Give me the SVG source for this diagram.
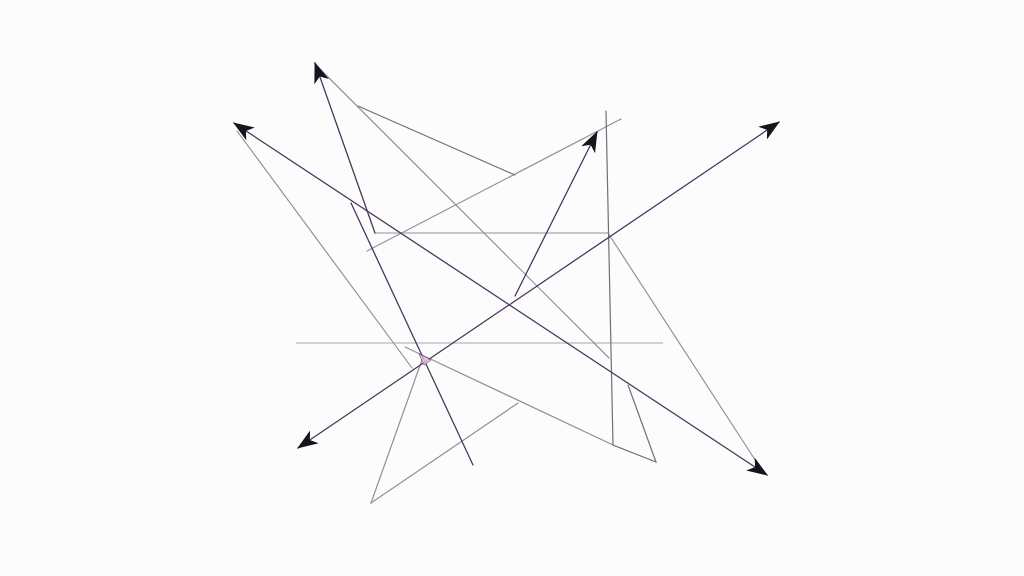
<svg xmlns="http://www.w3.org/2000/svg" width="1024" height="576" viewBox="0 0 1024 576">
  <defs>
    <marker id="ah" markerUnits="userSpaceOnUse" markerWidth="22" markerHeight="16" refX="18" refY="7" orient="auto-start-reverse" viewBox="0 0 20 14">
      <path d="M0,0 L19,7 L0,14 L5,7 Z" fill="#15151f"/>
    </marker>
  </defs>
  <style>
    .p { stroke: #4f3560; stroke-width: 1.3; fill: none; stroke-linecap: round; }
    .g { stroke: #707075; stroke-width: 1.2; fill: none; stroke-linecap: round; }
    .lg { stroke: #929297; stroke-width: 1.2; fill: none; stroke-linecap: round; }
    .h { stroke: #c4c4c8; stroke-width: 1.3; fill: none; }
  </style>
  <rect width="1024" height="576" fill="#fcfcfc"/>
  <g id="connectors">
    <line class="h" x1="296" y1="343" x2="663" y2="343"/>
    <line class="lg" x1="375" y1="233" x2="608" y2="233"/>
    <line class="lg" x1="367" y1="251" x2="621" y2="119"/>
    <line class="lg" x1="318" y1="67" x2="609" y2="358"/>
    <line class="lg" x1="237" y1="131" x2="412" y2="368"/>
    <line class="lg" x1="608" y1="233" x2="761" y2="469"/>
    <line class="lg" x1="405" y1="347" x2="613" y2="445"/>
    <line class="lg" x1="371" y1="503" x2="518" y2="403"/>
    <line class="lg" x1="371" y1="503" x2="423" y2="357"/>
    <line class="g" x1="358" y1="106" x2="515" y2="175"/>
    <polyline class="g" points="606,111 613,445 656,462 628,385"/>
    <line class="p" x1="351" y1="203" x2="473" y2="465"/>
    <line class="p" x1="375" y1="233" x2="315" y2="63" marker-end="url(#ah)"/>
    <line class="p" x1="515" y1="296" x2="597" y2="132" marker-end="url(#ah)"/>
    <line class="p" x1="234" y1="123" x2="767" y2="475" marker-start="url(#ah)" marker-end="url(#ah)"/>
    <line class="p" x1="298" y1="448" x2="779" y2="122" marker-start="url(#ah)" marker-end="url(#ah)"/>
    <path d="M419,354 L431,360 L424,365 Z" fill="#e6c6dc" fill-opacity="0.8" stroke="#8a5a8a" stroke-width="0.8"/>
  </g>
</svg>
